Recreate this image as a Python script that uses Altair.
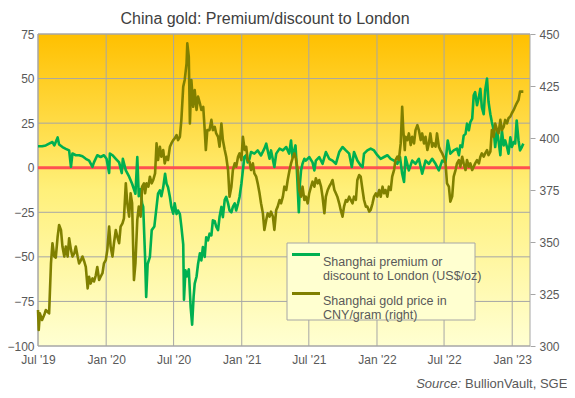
import altair as alt
import pandas as pd

# ---------------- data ----------------
START = (2019, 7, 1)
END = (2023, 2, 18)

# Shanghai premium/discount to London, US$/oz (days since 1 Jul 2019)
prem_days = [0, 11, 21, 30, 39, 44, 53, 57, 66, 75, 84, 89, 93, 102, 111, 120, 129, 138, 147, 151,
             160, 169, 178, 185, 192, 194, 201, 210, 219, 226, 229, 237, 246, 254, 263, 268, 272, 277, 281, 284,
             289, 292, 296, 302, 307, 314, 320, 324, 329, 333, 338, 343, 347, 351, 356, 360, 365, 369, 374, 378,
             383, 387, 392, 394, 398, 402, 407, 412, 416, 420, 423, 428, 432, 437, 441, 445, 450, 454, 459, 463,
             468, 472, 477, 481, 486, 490, 495, 499, 504, 508, 513, 517, 522, 526, 531, 535, 540, 544, 549, 553,
             557, 562, 566, 571, 575, 584, 593, 602, 611, 616, 620, 625, 629, 638, 643, 652, 661, 670, 678, 683,
             687, 695, 698, 704, 707, 710, 714, 719, 723, 732, 741, 746, 750, 759, 768, 777, 786, 795, 804, 813,
             822, 831, 840, 847, 853, 862, 871, 876, 880, 889, 898, 907, 916, 925, 934, 943, 952, 961, 970, 977,
             983, 988, 992, 1001, 1010, 1019, 1028, 1037, 1046, 1055, 1064, 1073, 1082, 1091, 1100, 1106, 1113, 1122, 1131, 1136,
             1140, 1145, 1149, 1154, 1158, 1163, 1167, 1172, 1176, 1180, 1185, 1190, 1194, 1198, 1203, 1207, 1212, 1216, 1221, 1225,
             1230, 1234, 1239, 1243, 1248, 1252, 1257, 1261, 1266, 1270, 1275, 1279, 1284, 1288, 1292, 1297, 1301, 1306, 1310]
prem_vals = [12, 12, 12.5, 13.5, 14.4, 12.5, 17, 13, 11.6, 10.6, 9.7, 0.5, 8, 7, 7, 6.4, 5, 4, 0.5, 3,
             7, 6, 7, 5, -3, 8, 7, 5, 3, -3, 5, -1.5, -5, -9, -14.6, 6, -16, -12, -20, -22,
             -50, -72.5, -54, -50, -35, -33, -22, -14.6, -12.7, -16, -11, -3.4, -9, -11, -16.4, -22, -25.8, -20, -26, -24,
             -26, -33, -43, -74, -57.6, -61, -57, -78, -88, -72.5, -65, -61, -54, -48, -52, -44.5, -50, -39, -40.7, -37,
             -38, -29.5, -30, -33, -35, -27.7, -22, -27.7, -18, -16.4, -20, -24, -25, -22, -20, -24, -20, -16.4, -9, -1.5,
             6, 7, 3, 5, 8.8, 7.9, 9.7, 6.9, 10.7, 13.5, 9.7, 5, 9.7, 0.4, 7.9, 10.7, 9.7, 11.6, 7.9, 15.3,
             6, 12.5, 2, -25, -9, -1.5, 2.2, 5, 4, 6, 3, -1.5, 4, 6, 2.2, 8.8, 5, 4, 2.2, 8.8,
             11.6, 9.7, 7.9, 0.4, 8.8, 4, 1.3, 0.4, 7.9, 9.7, 10.7, 9.7, 7, 5, 6, 7, 5, 4, 2.2, 6,
             -3.4, -8, 6, -1.5, 4, 2.2, 5, -3.4, 4, 2.2, 5, 2.2, -1.5, 4, 3, 15.3, 7.9, 9.7, 10.7, 7,
             12.5, 11.6, 18, 19, 24.7, 21, 25.6, 27.5, 40.6, 42.4, 35, 39.6, 44.3, 34, 30, 43.4, 50, 37, 30, 25.6,
             21, 11.6, 21, 15.3, 7, 21, 12.5, 15.3, 11.6, 7.9, 17, 11.6, 14.4, 13.5, 26.5, 15.3, 9.7, 11.6, 13.5]

# Shanghai gold price, CNY/gram (days since 1 Jul 2019)
price_days = [0, 2, 5, 11, 17, 21, 28, 30, 35, 39, 44, 48, 53, 57, 62, 66, 71, 75, 80, 84,
              89, 93, 98, 102, 107, 111, 116, 120, 125, 129, 134, 138, 142, 147, 151, 156, 160, 165, 169, 174,
              178, 183, 187, 192, 196, 201, 205, 210, 214, 219, 223, 228, 232, 237, 241, 246, 250, 254, 259, 263,
              268, 272, 277, 281, 286, 289, 293, 298, 302, 307, 311, 316, 320, 324, 329, 333, 338, 342, 347, 351,
              356, 360, 365, 369, 374, 378, 383, 387, 392, 396, 401, 403, 407, 410, 414, 419, 423, 428, 432, 437,
              441, 446, 450, 453, 457, 463, 468, 472, 477, 481, 486, 490, 495, 499, 504, 508, 513, 517, 522, 526,
              531, 535, 540, 544, 549, 553, 558, 562, 566, 571, 575, 580, 584, 589, 593, 598, 602, 607, 611, 616,
              620, 625, 629, 634, 638, 643, 647, 652, 656, 661, 665, 670, 674, 679, 683, 687, 692, 696, 701, 705,
              710, 714, 719, 723, 728, 732, 737, 741, 746, 750, 755, 759, 764, 768, 773, 777, 782, 786, 791, 795,
              800, 804, 808, 813, 817, 822, 826, 831, 835, 840, 844, 849, 853, 858, 862, 867, 871, 876, 880, 885,
              889, 894, 898, 903, 907, 912, 916, 921, 925, 930, 934, 938, 943, 947, 952, 956, 961, 965, 970, 974,
              979, 983, 986, 990, 992, 997, 1001, 1006, 1010, 1015, 1019, 1024, 1028, 1033, 1037, 1042, 1046, 1051, 1055, 1059,
              1064, 1068, 1073, 1077, 1082, 1086, 1091, 1095, 1100, 1104, 1109, 1113, 1118, 1122, 1127, 1131, 1136, 1140, 1145, 1149,
              1154, 1158, 1163, 1167, 1172, 1176, 1180, 1185, 1190, 1194, 1198, 1203, 1207, 1212, 1216, 1221, 1225, 1230, 1234, 1239,
              1243, 1248, 1252, 1257, 1261, 1266, 1270, 1275, 1279, 1284, 1288, 1292, 1297, 1301, 1306, 1310]
price_vals = [317.3, 307.7, 315.7, 312.5, 315, 317.3, 316, 315.7, 339.7, 349.4, 343, 342.5, 352.6, 358.2, 355.8, 347.8, 343, 347.8, 343, 351.8,
              346.2, 343, 344.5, 347.8, 343, 339.7, 341.3, 343, 340.5, 338, 327.7, 333.3, 330, 332.5, 331, 334, 338, 331.7, 333.3, 335,
              339.7, 341.3, 346, 357.4, 347.8, 343, 349.4, 355.8, 352.6, 349.4, 357.4, 359, 361.4, 378.2, 368.6, 362.2, 373.4, 368.6, 331.7, 339.7,
              360.6, 367, 362.2, 376.6, 378.2, 373.4, 378.2, 376.6, 381.4, 378.2, 379.8, 383, 397.4, 389.4, 395.8, 391, 394.2, 387.8, 391, 389.4,
              395.8, 397.4, 399, 399.8, 401.4, 399, 400.6, 408.7, 424.7, 427.9, 435.9, 445.5, 439.1, 407, 427.9, 415, 423, 413.5, 419.9, 416.7,
              413.5, 415, 403.8, 394.2, 403.8, 403.8, 408.7, 403.8, 405.4, 402.2, 400.6, 395.8, 407, 399, 394.2, 391, 384.6, 371.8, 376.6, 384.6,
              387.8, 386.2, 391, 392.6, 389.4, 400.6, 394.2, 395.8, 389.4, 388.6, 384.6, 387.8, 383, 381.4, 378.2, 373.4, 368.6, 363.8, 355.8, 360.6,
              363.8, 362.2, 364.6, 362.2, 355.8, 365.4, 367, 370.2, 368.6, 371.8, 376.6, 375, 379.8, 384.6, 387.8, 390.2, 392.6, 390.2, 384.6, 375,
              371.8, 376.6, 370.2, 371.8, 368.6, 373.4, 376.6, 379, 376.6, 380.6, 378.2, 379.8, 376.6, 371.8, 363.8, 371.8, 375, 376.6, 378.2, 379.8,
              375, 373.4, 371.8, 368.6, 365.4, 362.2, 367, 370.2, 369.4, 371.8, 370.2, 368.6, 371.8, 370.2, 379.8, 382.2, 381.4, 375, 370.2, 367,
              367, 364.6, 365.4, 368.6, 371.8, 373.4, 371.8, 375, 371.8, 376.6, 373.4, 375, 371.8, 376.6, 375, 381.4, 384.6, 389.4, 391, 389.4,
              397.4, 415, 403.8, 394.2, 400.6, 399, 402.2, 396.6, 400.6, 397.4, 403.8, 406.2, 403.8, 399, 402.2, 397.4, 400.6, 394.2, 397.4, 402.2,
              395.8, 397.4, 395.8, 402.2, 395.8, 394.2, 392.6, 391, 387.8, 378.2, 376.6, 369.4, 372, 381.4, 384.6, 387.8, 389.4, 386.2, 391, 387.8,
              384.6, 389.4, 386.2, 387.8, 384.6, 386.2, 387.8, 389.4, 387.8, 391, 392.6, 391, 392.6, 394.2, 391.8, 393.4, 403.8, 400.6, 407, 403.8,
              402.2, 408.7, 403.8, 405.4, 408.7, 407, 409.5, 410.3, 411.9, 413.5, 415.1, 416.7, 418.3, 422.3, 422.3, 422.3]

x_tick_dates = [(2019, 7), (2020, 1), (2020, 7), (2021, 1), (2021, 7), (2022, 1), (2022, 7), (2023, 1)]
left_ticks = [-100, -75, -50, -25, 0, 25, 50, 75]
right_ticks = [300, 325, 350, 375, 400, 425, 450]
series_labels = [["Shanghai premium or", "discount to London (US$/oz)"],
                 ["Shanghai gold price in", "CNY/gram (right)"]]
series_colors = ["#00b050", "#808000"]
title_text = "China gold: Premium/discount to London"
source_label = "Source:"
source_text = "BullionVault, SGE"

assert len(prem_days) == len(prem_vals)
assert len(price_days) == len(price_vals)

# ---------------- build ----------------
PAD_L = 30
W, H = 492, 312
FONT = "Liberation Sans"
GRID = "#a6a6a6"
TXT = "#595959"
SHIFT = 36 - (8 + PAD_L)  # keeps overlay marks at their page positions

base_ts = pd.Timestamp(*START)
prem = pd.DataFrame({"date": base_ts + pd.to_timedelta(prem_days, unit="D"), "v": prem_vals})
price = pd.DataFrame({"date": base_ts + pd.to_timedelta(price_days, unit="D"), "v": price_vals})
vgrid_df = pd.DataFrame({"date": [pd.Timestamp(y, m, 1) for y, m in x_tick_dates]})
hgrid_df = pd.DataFrame({"v": left_ticks})
zero_df = pd.DataFrame({"v": [0]})
one = pd.DataFrame({"k": [0]})

xscale = alt.Scale(domain=[alt.DateTime(year=START[0], month=START[1], date=START[2]),
                           alt.DateTime(year=END[0], month=END[1], date=END[2])])
xaxis = alt.Axis(values=[alt.DateTime(year=y, month=m, date=1) for y, m in x_tick_dates],
                 format="%b '%y", title=None, grid=False, ticks=False, tickSize=0,
                 domain=False, labelPadding=8, labelFlush=False)
X = alt.X("date:T", scale=xscale, axis=xaxis)

yl_scale = alt.Scale(domain=[-100, 75], nice=False, zero=False)
yr_scale = alt.Scale(domain=[300, 450], nice=False, zero=False)

bg = alt.Chart(one).mark_rect(
    color=alt.LinearGradient(
        gradient="linear", x1=0, x2=0, y1=0, y2=1,
        stops=[alt.GradientStop(offset=0, color="#ffc000"),
               alt.GradientStop(offset=0.5, color="#fff07a"),
               alt.GradientStop(offset=1, color="#ffffd2")]),
    stroke=GRID, strokeWidth=1,
).encode(x=alt.value(0), x2=alt.value(W), y=alt.value(0), y2=alt.value(H))

hgrid = alt.Chart(hgrid_df).mark_rule(color=GRID, strokeWidth=1).encode(
    y=alt.Y("v:Q", scale=yl_scale, axis=None))
vgrid = alt.Chart(vgrid_df).mark_rule(color=GRID, strokeWidth=1).encode(x=X)

zero = alt.Chart(zero_df).mark_rule(color="#ff5050", strokeWidth=3).encode(
    y=alt.Y("v:Q", scale=yl_scale, axis=None))

green = alt.Chart(prem).mark_line(color=series_colors[0], strokeWidth=2.6, strokeJoin="round").encode(
    x=X,
    y=alt.Y("v:Q", scale=yl_scale,
            axis=alt.Axis(orient="left", values=left_ticks, title=None, grid=False,
                          ticks=False, tickSize=0, domain=False, labelPadding=4)))

olive = alt.Chart(price).mark_line(color=series_colors[1], strokeWidth=2.6, strokeJoin="round").encode(
    x=X,
    y=alt.Y("v:Q", scale=yr_scale,
            axis=alt.Axis(orient="right", values=right_ticks, title=None, grid=False,
                          ticks=True, tickSize=5, tickColor=GRID, domain=False, labelPadding=4)))

# legend (box, line swatches, labels)
leg_box = alt.Chart(one).mark_rect(fill="#ffffd0", stroke=GRID, strokeWidth=1).encode(
    x=alt.value(251 + SHIFT), x2=alt.value(439 + SHIFT), y=alt.value(209), y2=alt.value(286))
leg_layers = [leg_box]
for i, (lab, col) in enumerate(zip(series_labels, series_colors)):
    cy = 220.5 + i * 39
    leg_layers.append(alt.Chart(one).mark_rule(color=col, strokeWidth=3).encode(
        x=alt.value(256 + SHIFT), x2=alt.value(284 + SHIFT), y=alt.value(cy)))
    leg_layers.append(alt.Chart(one).mark_text(
        align="left", baseline="middle", font=FONT, fontSize=12.5, color=TXT, lineHeight=14.5
    ).encode(x=alt.value(287 + SHIFT), y=alt.value(cy + 7.25), text=alt.value(lab)))

src1 = alt.Chart(one).mark_text(align="right", baseline="middle", font=FONT, fontSize=13,
                                fontStyle="italic", color=TXT).encode(
    x=alt.value(425 + SHIFT), y=alt.value(350), text=alt.value(source_label))
src2 = alt.Chart(one).mark_text(align="left", baseline="middle", font=FONT, fontSize=13,
                                color=TXT).encode(
    x=alt.value(429 + SHIFT), y=alt.value(350), text=alt.value(source_text))

chart = alt.layer(bg, hgrid, vgrid, zero, green, olive, *leg_layers, src1, src2).resolve_scale(
    y="independent"
).properties(
    width=W, height=H,
    title=alt.TitleParams(title_text, font=FONT, fontSize=16, fontWeight="normal", color="#404040",
                          anchor="middle", dx=-19, offset=1),
    padding={"left": PAD_L, "top": 26, "right": 37, "bottom": 44},
    autosize=alt.AutoSizeParams(type="none"),
).configure_view(stroke=None).configure_axis(
    labelFont=FONT, labelFontSize=12, labelColor=TXT
)

chart.save("out.html", embed_options={"renderer": "svg", "actions": False})
